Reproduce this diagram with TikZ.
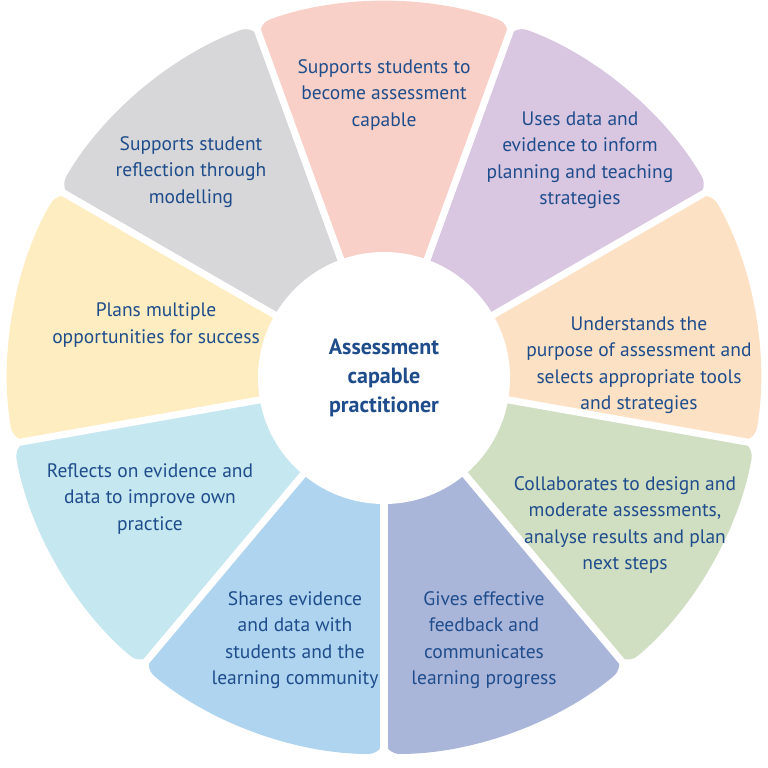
\documentclass[tikz,border=0pt]{standalone}
\usepackage{fontspec}
\setmainfont{PT Sans}
\usetikzlibrary{positioning}
\definecolor{pinkS}{HTML}{F9D0C7}
\definecolor{lilacS}{HTML}{D9C6E1}
\definecolor{peachS}{HTML}{FDE1C4}
\definecolor{sageS}{HTML}{D0DEC2}
\definecolor{slateS}{HTML}{AAB5DA}
\definecolor{skyS}{HTML}{AED4EF}
\definecolor{aquaS}{HTML}{C5E7EF}
\definecolor{creamS}{HTML}{FEEDC0}
\definecolor{greyS}{HTML}{D7D7D9}
\definecolor{inkS}{HTML}{1F4D8C}
\begin{document}
\begin{tikzpicture}[x=1pt,y=1pt]
  \tikzstyle{label}=[text=inkS, font=\fontsize{19.5}{26.5}\selectfont, align=center]
  \tikzstyle{gap}=[white, line width=7pt]
  \useasboundingbox (-384,-390) rectangle (384,378);

  \foreach \a/\c in {90/pinkS,50/lilacS,10/peachS,-30/sageS,-70/slateS,-110/skyS,-150/aquaS,170/creamS,130/greyS}
    \fill[\c, rounded corners=16pt] (\a-20:60) -- (\a-20:376) arc[start angle=\a-20, end angle=\a+20, radius=376] -- (\a+20:60) -- cycle;
  \foreach \a in {70,30,-10,-50,-90,-130,-170,150,110}
    \draw[gap] (0,0) -- (\a:390);
  \node[circle, fill=white, minimum size=252pt, inner sep=0pt] (hub) at (0,0) {};
  \node[label, font=\fontsize{22}{29}\selectfont\bfseries] (title) at (hub) {Assessment\\capable\\practitioner};

  \node[label] (s1) at (0,283) {Supports students to\\become assessment\\capable};
  \node[label] (s2) at (196,218) {Uses data and\\evidence to inform\\planning and teaching\\strategies};
  \node[label] (s3) at (255,13) {Understands the\\purpose of assessment and\\selects appropriate tools\\and strategies};
  \node[label] (s4) at (241,-147) {Collaborates to design and\\moderate assessments,\\analyse results and plan\\next steps};
  \node[label] (s5) at (100,-262) {Gives effective\\feedback and\\communicates\\learning progress};
  \node[label] (s6) at (-89,-262) {Shares evidence\\and data with\\students and the\\learning community};
  \node[label] (s7) at (-234,-121) {Reflects on evidence and\\data to improve own\\practice};
  \node[label] (s8) at (-228,53) {Plans multiple\\opportunities for success};
  \node[label] (s9) at (-193,206) {Supports student\\reflection through\\modelling};
\end{tikzpicture}
\end{document}
